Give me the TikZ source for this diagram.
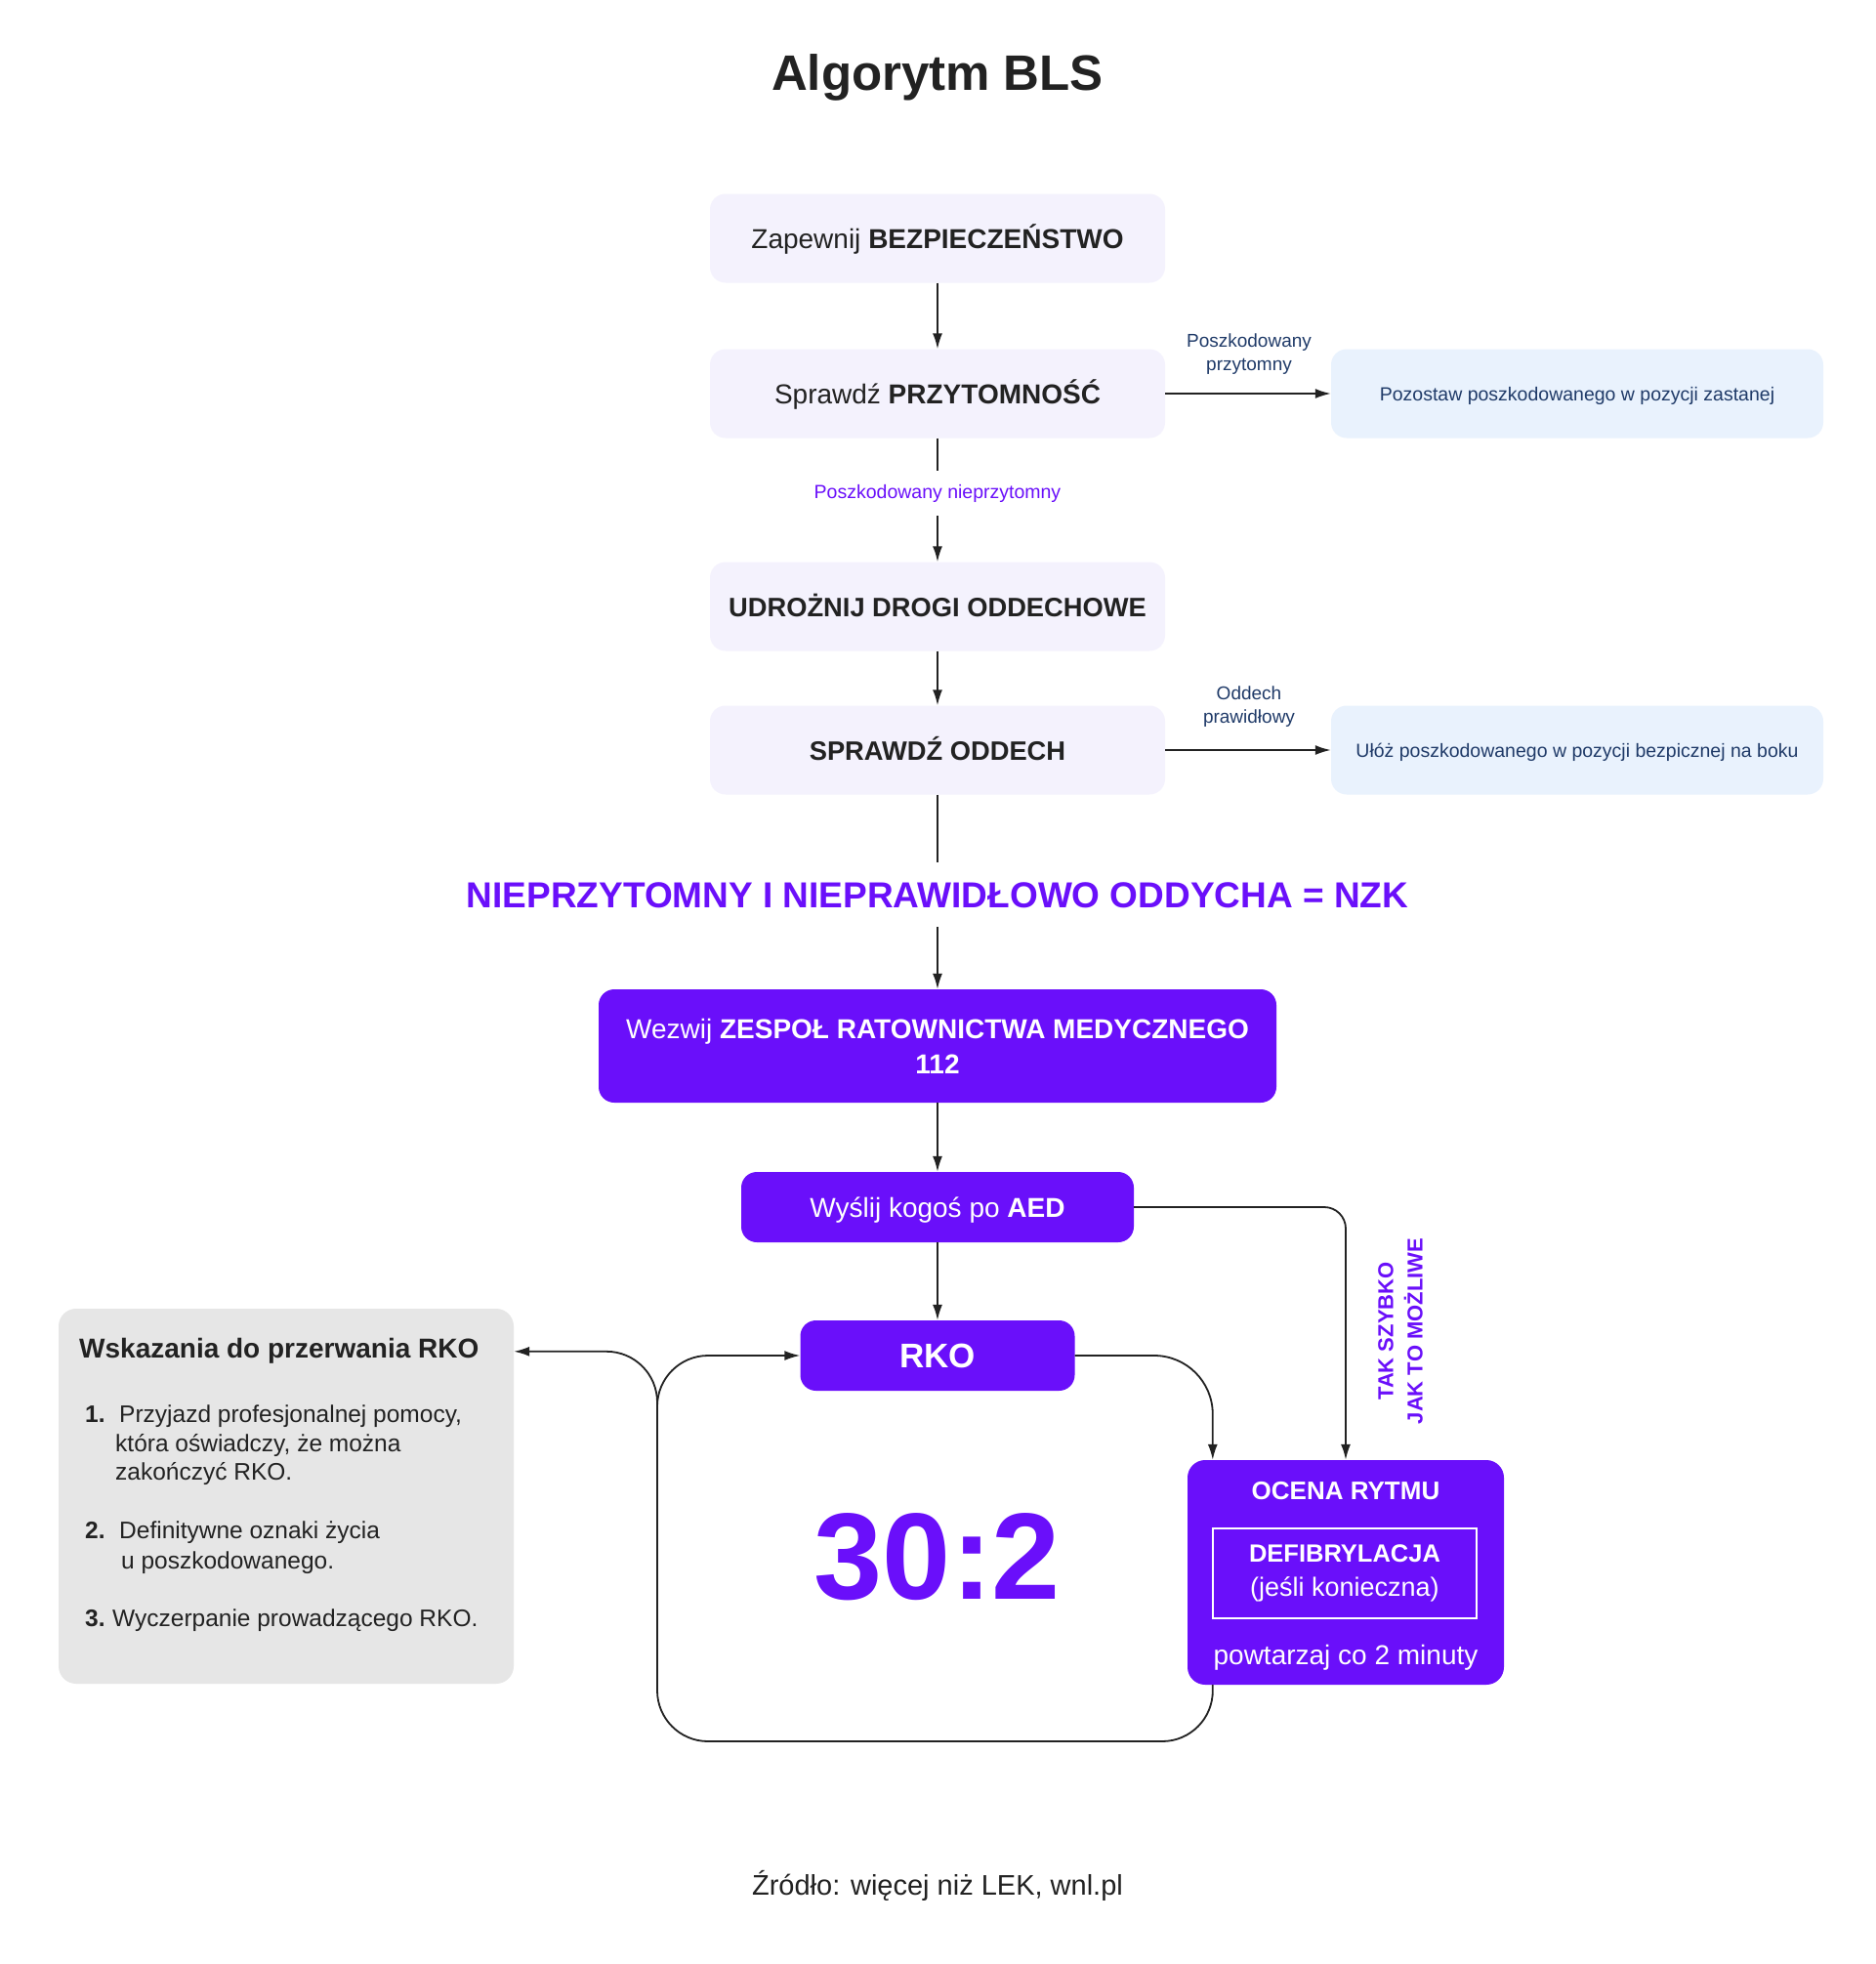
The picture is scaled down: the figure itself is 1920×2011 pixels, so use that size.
\documentclass[tikz,border=0pt]{standalone}
\usepackage{fontspec}
\setmainfont{Liberation Sans}
\usetikzlibrary{arrows.meta}
\definecolor{lav}{HTML}{F4F2FD}
\definecolor{lblue}{HTML}{E9F2FD}
\definecolor{purp}{HTML}{6A0FFA}
\definecolor{gbox}{HTML}{E6E6E6}
\definecolor{navy}{HTML}{1F3A68}
\definecolor{ink}{HTML}{222222}
\newcommand{\fsz}[2]{\fontsize{#1pt}{#2pt}\selectfont}
\tikzset{
  conn/.style={draw=ink, line width=1.8pt},
  arr/.style={conn, -{Latex[length=16pt,width=10pt]}},
  lbox/.style={fill=lav, rounded corners=16pt, minimum width=466pt, minimum height=91pt, inner sep=0pt, text=ink, font=\fsz{28}{34}, text height=20pt, text depth=0pt},
  bbox/.style={fill=lblue, rounded corners=16pt, minimum width=504pt, minimum height=91pt, inner sep=0pt, text=navy, font=\fsz{19.5}{24}, text height=14pt, text depth=0pt},
  pbox/.style={fill=purp, rounded corners=16pt, inner sep=0pt, text=white, font=\fsz{28}{36}, align=center},
  elabel/.style={text=navy, font=\fsz{19}{24}, align=center, inner sep=0pt},
  wtext/.style={anchor=west, inner sep=0pt, text=ink, font=\fsz{24.5}{30}, text height=17pt, text depth=0pt},
  wnum/.style={wtext, font=\bfseries\fsz{24.5}{30}},
  otext/.style={inner sep=0pt, text=white, text depth=0pt},
}
\begin{document}
\begin{tikzpicture}[x=1pt,y=-1pt]
\useasboundingbox[fill=white] (0,0) rectangle (1920,2011);

% title
\node[anchor=base, inner sep=0pt, text=ink, font=\bfseries\fsz{51}{60}] (title) at (960,92) {Algorytm BLS};

% upper column
\node[lbox] (b1) at (960,244) {Zapewnij \textbf{BEZPIECZEŃSTWO}};
\node[lbox] (b2) at (960,403) {Sprawdź \textbf{PRZYTOMNOŚĆ}};
\node[bbox] (r1) at (1615,403) {Pozostaw poszkodowanego w pozycji zastanej};
\node[elabel] (l1) at (1279,363) {Poszkodowany\\przytomny};
\node[inner sep=0pt, minimum height=46pt, text=purp, font=\fsz{19.5}{24}] (l2) at (960,505) {Poszkodowany nieprzytomny};
\node[lbox, font=\bfseries\fsz{27.3}{34}] (b3) at (960,621) {UDROŻNIJ DROGI ODDECHOWE};
\node[lbox, font=\bfseries\fsz{27.3}{34}] (b4) at (960,768) {SPRAWDŹ ODDECH};
\node[bbox] (r2) at (1615,768) {Ułóż poszkodowanego w pozycji bezpicznej na boku};
\node[elabel] (l3) at (1279,724) {Oddech\\prawidłowy};

\node[inner sep=0pt, minimum height=66pt, text=purp, font=\bfseries\fsz{37}{44}, text height=27pt, text depth=0pt] (nzk) at (960,916) {NIEPRZYTOMNY I NIEPRAWIDŁOWO ODDYCHA = NZK};

% purple boxes
\node[pbox, minimum width=694pt, minimum height=116pt] (zrm) at (960,1071) {Wezwij \textbf{ZESPOŁ RATOWNICTWA MEDYCZNEGO}\\\textbf{112}};
\node[pbox, minimum width=402pt, minimum height=72pt, text height=20pt, text depth=0pt] (aed) at (960,1236) {Wyślij kogoś po \textbf{AED}};
\node[pbox, minimum width=281pt, minimum height=72pt, font=\bfseries\fsz{35}{40}, text height=25pt, text depth=0pt] (rko) at (960,1388) {RKO};

\node[pbox, rounded corners=18pt, minimum width=324pt, minimum height=230pt] (oc) at (1378,1610) {};
\node[otext, font=\bfseries\fsz{26}{30}, text height=19pt] (ocT) at (1378,1526) {OCENA RYTMU};
\node[draw=white, line width=2pt, minimum width=270pt, minimum height=92pt, inner sep=0pt, align=center, text=white, font=\fsz{27}{35}] (defib) at (1377,1611) {\textbf{\fsz{25.5}{35}DEFIBRYLACJA}\\(jeśli konieczna)};
\node[otext, font=\fsz{28}{32}, text height=20pt] (ocP) at (1378,1694) {powtarzaj co 2 minuty};

\node[rotate=90, inner sep=0pt, align=center, text=purp, font=\bfseries\fsz{22}{30}] (tak) at (1434,1363) {TAK SZYBKO\\JAK TO MOŻLIWE};

\node[inner sep=0pt, text=purp, font=\bfseries\fsz{126}{130}] (ratio) at (960,1594) {30:2};

% left info box
\node[fill=gbox, rounded corners=18pt, minimum width=466pt, minimum height=384pt, inner sep=0pt] (wsk) at (293,1532) {};
\node[wtext, font=\bfseries\fsz{28}{32}, text height=20pt] (wt) at (81,1380) {Wskazania do przerwania RKO};
\node[wnum] (n1) at (87,1448) {1.};
\node[wtext] (i1a) at (122,1448) {Przyjazd profesjonalnej pomocy,};
\node[wtext] (i1b) at (118,1478) {która oświadczy, że można};
\node[wtext] (i1c) at (118,1507) {zakończyć RKO.};
\node[wnum] (n2) at (87,1567) {2.};
\node[wtext] (i2a) at (122,1567) {Definitywne oznaki życia};
\node[wtext] (i2b) at (124,1598) {u poszkodowanego.};
\node[wnum] (n3) at (87,1657) {3.};
\node[wtext] (i3) at (115,1657) {Wyczerpanie prowadzącego RKO.};

% footer
\node[inner sep=0pt, text=ink, font=\fsz{29}{34}, text height=21pt, text depth=0pt] (src) at (960,1930) {Źródło: więcej niż LEK, wnl.pl};

% connectors
\draw[arr] (b1.south) -- (b2.north);
\draw[arr] (b2.east) -- (r1.west);
\draw[conn] (b2.south) -- (l2.north);
\draw[arr] (l2.south) -- (b3.north);
\draw[arr] (b3.south) -- (b4.north);
\draw[arr] (b4.east) -- (r2.west);
\draw[conn] (b4.south) -- (nzk.north);
\draw[arr] (nzk.south) -- (zrm.north);
\draw[arr] (zrm.south) -- (aed.north);
\draw[arr] (aed.south) -- (rko.north);
\draw[arr, rounded corners=22pt] (aed.east) -| (oc.north);

\coordinate (ocl) at ([xshift=26pt]oc.north west);
\coordinate (ocb) at ([xshift=26pt]oc.south west);
\coordinate (lp1) at (1242,1783);
\coordinate (lp2) at (673,1783);
\coordinate (J) at (673,1450);
\coordinate (wskin) at ([yshift=-44pt]wsk.north east);
\draw[arr, rounded corners=60pt] (rko.east) -| (ocl);
\draw[conn, rounded corners=52pt] (ocb) -- (lp1) -- (lp2) -- (J);
\draw[arr, rounded corners=52pt] (J) |- (rko.west);
\draw[arr, rounded corners=52pt] (J) |- (wskin);
\end{tikzpicture}
\end{document}
